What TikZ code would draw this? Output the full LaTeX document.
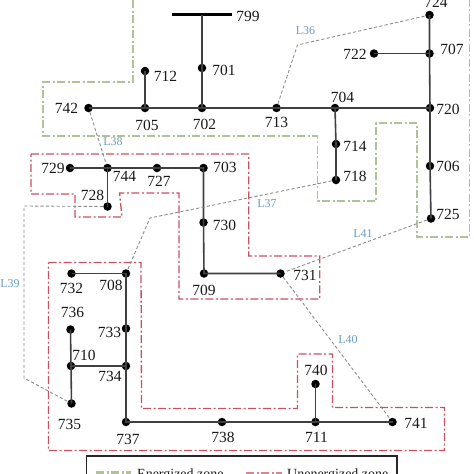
\documentclass[tikz,border=0pt]{standalone}
\usepackage{fontspec}
\setmainfont{Liberation Serif}
\definecolor{ezone}{HTML}{AEC496}
\definecolor{uzone}{HTML}{C9505F}
\definecolor{tie}{HTML}{8C8C8C}
\definecolor{linelab}{HTML}{6C9BC9}
\definecolor{feeder}{HTML}{404040}
\tikzset{
  x=1pt,y=-1pt,
  bus/.style={circle,fill=black,inner sep=0pt,minimum size=8.5pt},
  lab/.style={font=\fontsize{15.5}{15.5}\selectfont,inner sep=0pt,text=black!90},
  linelabel/.style={font=\fontsize{12}{12}\selectfont,inner sep=0pt,text=linelab},
  feed/.style={draw=feeder,line width=1.6pt},
  tieline/.style={draw=tie,line width=0.9pt,dash pattern=on 3.2pt off 2.2pt},
  ezoneline/.style={draw=ezone,line width=1.05pt,dash pattern=on 8pt off 2.5pt on 2pt off 2.5pt},
  uzoneline/.style={draw=uzone,line width=1.3pt,dash pattern=on 8pt off 2.5pt on 2pt off 2.5pt},
  legendtext/.style={anchor=base west,inner sep=0pt,text=black!90,font=\fontsize{14}{14}\selectfont},
}
\begin{document}
\begin{tikzpicture}
\useasboundingbox (0,0) rectangle (474,474);
% zones
\draw[ezoneline] (133,0) -- (133,82) -- (43,82) -- (43,136) -- (317.5,136) -- (317.5,201) -- (376,201) -- (376,123) -- (417,123) -- (417,237) -- (469.5,237) -- (469.5,0);
\draw[uzoneline] (31,154) -- (248.7,154) -- (248.7,256) -- (319.7,256) -- (319.7,299) -- (179,299) -- (179,193) -- (119.5,193) -- (122,217) -- (75,217) -- (75,194) -- (31,194) -- cycle;
\draw[uzoneline] (48.5,262.5) -- (141,262.5) -- (141.5,408.5) -- (297.5,408.5) -- (297.5,354) -- (332.5,354) -- (332.5,407.5) -- (444.5,407.5) -- (444.5,450.5) -- (48.5,450.5) -- cycle;
% buses
\node[bus] (n701) at (202,68) {};
\node[bus] (n702) at (202,108) {};
\node[bus] (n705) at (145,108) {};
\node[bus] (n712) at (145,71) {};
\node[bus] (n742) at (88.5,108) {};
\node[bus] (n713) at (276.5,108) {};
\node[bus] (n704) at (335,108) {};
\node[bus] (n720) at (430,108) {};
\node[bus] (n707) at (429.5,53.5) {};
\node[bus] (n724) at (429.5,15) {};
\node[bus] (n722) at (374,53.5) {};
\node[bus] (n714) at (336,144) {};
\node[bus] (n718) at (336,180) {};
\node[bus] (n706) at (430,166) {};
\node[bus] (n725) at (431,218.5) {};
\node[bus] (n729) at (70,168) {};
\node[bus] (n744) at (107.5,168) {};
\node[bus] (n727) at (157,168) {};
\node[bus] (n703) at (203.5,168) {};
\node[bus] (n728) at (107.5,206.5) {};
\node[bus] (n730) at (203.5,222.5) {};
\node[bus] (n709) at (204,273.5) {};
\node[bus] (n731) at (280.5,273.5) {};
\node[bus] (n708) at (126,273.5) {};
\node[bus] (n732) at (71.5,273.5) {};
\node[bus] (n733) at (126,328.5) {};
\node[bus] (n736) at (70.5,329.5) {};
\node[bus] (n734) at (126,366) {};
\node[bus] (n710) at (71,366) {};
\node[bus] (n735) at (71.5,403.5) {};
\node[bus] (n737) at (126,422) {};
\node[bus] (n738) at (222,422) {};
\node[bus] (n711) at (315.5,422) {};
\node[bus] (n740) at (315.5,384) {};
\node[bus] (n741) at (392.5,422) {};
\coordinate (busL) at (172,14.5);
\coordinate (busR) at (232,14.5);
\coordinate (busM) at (202,14.5);
\draw[black,line width=2.8pt] (busL) -- (busR);
% feeders
\draw[feed] (busM) -- (n701.center) -- (n702.center);
\draw[feed] (n742.center) -- (n705.center) -- (n702.center) -- (n713.center) -- (n704.center) -- (n720.center);
\draw[feed] (n712.center) -- (n705.center);
\draw[feed] (n724.center) -- (n707.center) -- (n720.center) -- (n706.center) -- (n725.center);
\draw[feed] (n722.center) -- (n707.center);
\draw[feed] (n704.center) -- (n714.center) -- (n718.center);
\draw[feed] (n729.center) -- (n744.center) -- (n727.center) -- (n703.center) -- (n730.center) -- (n709.center) -- (n731.center);
\draw[feed] (n744.center) -- (n728.center);
\draw[feed] (n732.center) -- (n708.center) -- (n733.center) -- (n734.center) -- (n737.center) -- (n738.center) -- (n711.center) -- (n741.center);
\draw[feed] (n736.center) -- (n710.center) -- (n735.center);
\draw[feed] (n710.center) -- (n734.center);
\draw[feed] (n740.center) -- (n711.center);
% tie lines
\coordinate (c36) at (297.5,45);
\coordinate (c37) at (150,218);
\coordinate (c39a) at (24,206);
\coordinate (c39b) at (24,378);
\draw[tieline] (n713) -- (c36) -- (n724);
\draw[tieline] (n718) -- (c37) -- (n708);
\draw[tieline] (n742) -- (n744);
\draw[tieline] (n728) -- (c39a) -- (c39b) -- (n735);
\draw[tieline] (n731) -- (n741);
\draw[tieline] (n725) -- (n731);
% bus labels
\node[lab] at (248,16) {799};
\node[lab] at (224,70) {701};
\node[lab] at (204.5,124) {702};
\node[lab] at (147,125) {705};
\node[lab] at (165.5,76) {712};
\node[lab] at (66.5,108.5) {742};
\node[lab] at (276.5,122) {713};
\node[lab] at (342.5,97) {704};
\node[lab] at (448,109) {720};
\node[lab] at (452,49) {707};
\node[lab] at (436,2) {724};
\node[lab] at (355,54) {722};
\node[lab] at (355,146) {714};
\node[lab] at (355,176) {718};
\node[lab] at (448,166) {706};
\node[lab] at (448,214) {725};
\node[lab] at (53,168) {729};
\node[lab] at (124.5,176) {744};
\node[lab] at (159,181) {727};
\node[lab] at (225,167.5) {703};
\node[lab] at (92.5,195) {728};
\node[lab] at (224.5,225) {730};
\node[lab] at (204,290) {709};
\node[lab] at (305,275.5) {731};
\node[lab] at (111,285.5) {708};
\node[lab] at (71.5,288) {732};
\node[lab] at (109.5,332) {733};
\node[lab] at (72.5,312.5) {736};
\node[lab] at (110,376.5) {734};
\node[lab] at (84,355.5) {710};
\node[lab] at (69.5,424.5) {735};
\node[lab] at (128,439) {737};
\node[lab] at (223,437) {738};
\node[lab] at (316.5,437.5) {711};
\node[lab] at (316,370) {740};
\node[lab] at (416,423) {741};
% line labels
\node[linelabel] at (113,142) {L38};
\node[linelabel] at (305.5,30.5) {L36};
\node[linelabel] at (267,204) {L37};
\node[linelabel] at (10,283.5) {L39};
\node[linelabel] at (348,340) {L40};
\node[linelabel] at (363,234) {L41};
% legend
\coordinate (legTL) at (86.5,456);
\coordinate (legTR) at (397,456);
\coordinate (legBL) at (86.5,480);
\coordinate (legBR) at (397,480);
\draw[black!85,line width=1.2pt] (legBL) -- (legTL) -- (legTR) -- (legBR);
\coordinate (e1) at (96,472.5);
\coordinate (e2) at (131,472.5);
\coordinate (u1) at (246,473);
\coordinate (u2) at (282,473);
\draw[ezoneline,line width=2.5pt] (e1) -- (e2);
\draw[uzoneline,draw=uzone!70,line width=2pt] (u1) -- (u2);
\node[legendtext] at (137,478) {Energized zone};
\node[legendtext] at (287,478) {Unenergized zone};
\end{tikzpicture}
\end{document}
